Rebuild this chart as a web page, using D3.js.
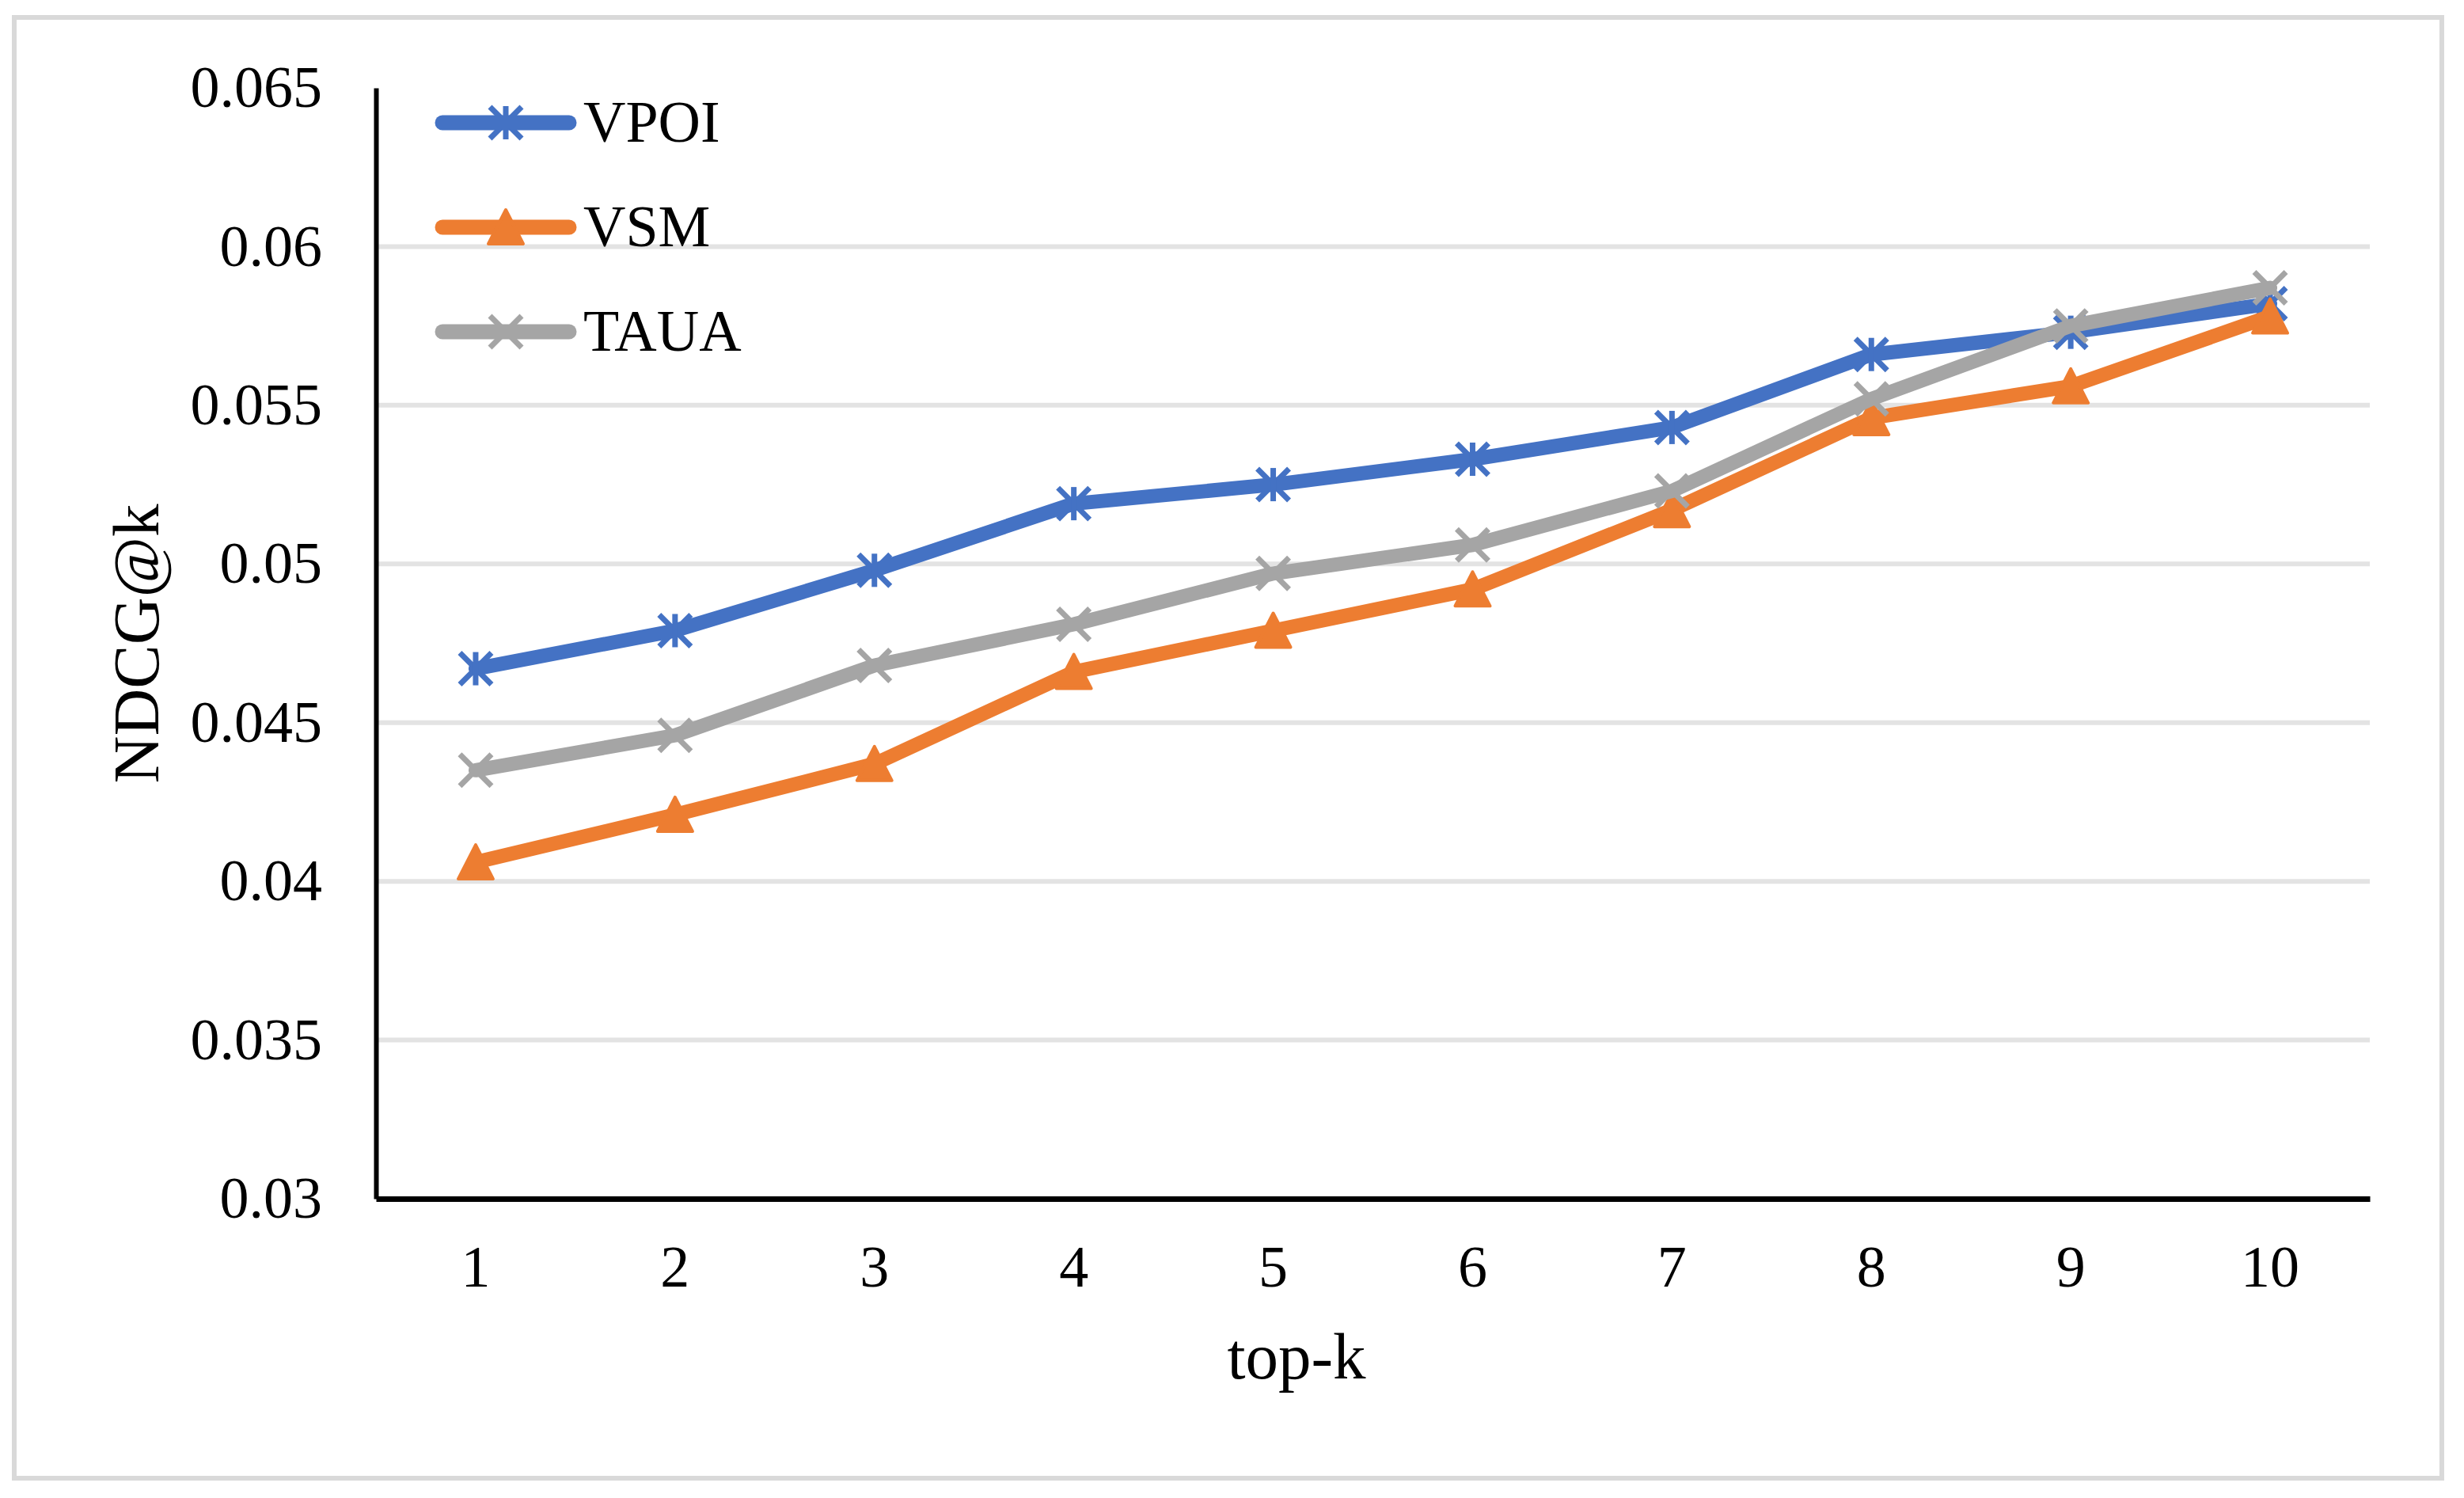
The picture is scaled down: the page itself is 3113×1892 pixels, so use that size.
<!DOCTYPE html>
<html>
<head>
<meta charset="utf-8">
<script src="https://cdn.jsdelivr.net/npm/d3@7"></script>
<style>
  body { margin: 0; background: #fff; }
  svg { display: block; font-family: "Times New Roman", "Liberation Serif", serif; }
</style>
</head>
<body>
<svg id="chart" width="3113" height="1892"></svg>
<script>
// chart data
const categories = ["1", "2", "3", "4", "5", "6", "7", "8", "9", "10"];
const seriesNames = ["VPOI", "VSM", "TAUA"];
const vpoi = [0.0467, 0.0479, 0.0498, 0.0519, 0.0525, 0.0533, 0.0543, 0.0566, 0.0573, 0.0582];
const vsm  = [0.0406, 0.0421, 0.0437, 0.0466, 0.0479, 0.0492, 0.0517, 0.0546, 0.0556, 0.0578];
const taua = [0.0435, 0.0446, 0.0468, 0.0481, 0.0497, 0.0506, 0.0523, 0.0552, 0.0575, 0.0587];
const yTicks = [0.03, 0.035, 0.04, 0.045, 0.05, 0.055, 0.06, 0.065];
const yTickLabels = ["0.03", "0.035", "0.04", "0.045", "0.05", "0.055", "0.06", "0.065"];
const xTitle = "top-k";
const yTitle = "NDCG@k";

const colors = { VPOI: "#4472C4", VSM: "#ED7D31", TAUA: "#A5A5A5" };
const markers = { VPOI: "star", VSM: "triangle", TAUA: "x" };
const values = { VPOI: vpoi, VSM: vsm, TAUA: taua };

const svg = d3.select("#chart");
const margin = { top: 111, right: 119, bottom: 378, left: 475 };
const W = +svg.attr("width"), H = +svg.attr("height");

// outer frame
svg.append("rect")
   .attr("x", 18).attr("y", 22)
   .attr("width", 3067).attr("height", 1845)
   .attr("fill", "#fff")
   .attr("stroke", "#D9D9D9")
   .attr("stroke-width", 6);

const x = d3.scaleBand()
            .domain(categories)
            .range([margin.left, W - margin.right]);

const y = d3.scaleLinear()
            .domain([0.03, 0.065])
            .range([H - margin.bottom, margin.top]);

// gridlines (none at the top value)
svg.append("g")
   .selectAll("line")
   .data(yTicks.slice(1, -1))
   .enter().append("line")
   .attr("x1", margin.left)
   .attr("x2", W - margin.right)
   .attr("y1", d => y(d))
   .attr("y2", d => y(d))
   .attr("stroke", "#E3E3E3")
   .attr("stroke-width", 6);

// y axis
const yAxis = svg.append("g")
   .attr("transform", "translate(" + margin.left + ",0)")
   .call(d3.axisLeft(y)
           .tickValues(yTicks)
           .tickFormat((d, i) => yTickLabels[i])
           .tickSize(0)
           .tickSizeOuter(0)
           .tickPadding(68));
yAxis.select(".domain").attr("stroke", "#000").attr("stroke-width", 6);
yAxis.selectAll("text")
     .attr("fill", "#000")
     .style("font-size", "74px")
     .style("font-family", "'Times New Roman', 'Liberation Serif', serif");

// x axis
const xAxis = svg.append("g")
   .attr("transform", "translate(0," + y(0.03) + ")")
   .call(d3.axisBottom(x)
           .tickSize(0)
           .tickSizeOuter(0)
           .tickPadding(58));
xAxis.select(".domain").attr("stroke", "#000").attr("stroke-width", 7);
xAxis.selectAll("text")
     .attr("fill", "#000")
     .style("font-size", "74px")
     .style("font-family", "'Times New Roman', 'Liberation Serif', serif");

// axis titles
svg.append("text")
   .attr("x", 1638)
   .attr("y", 1741)
   .attr("text-anchor", "middle")
   .style("font-size", "83px")
   .text(xTitle);

svg.append("text")
   .attr("transform", "translate(200,813) rotate(-90)")
   .attr("text-anchor", "middle")
   .style("font-size", "83px")
   .text(yTitle);

// marker drawing
function drawMarker(g, type, color) {
  if (type === "triangle") {
    g.append("path")
     .attr("d", "M0,-22 L22,21 L-22,21 Z")
     .attr("fill", color)
     .attr("stroke", color)
     .attr("stroke-width", 4)
     .attr("stroke-linejoin", "round");
    return;
  }
  const s = 20;
  const segs = [[-s, -s, s, s], [-s, s, s, -s]];
  if (type === "star") segs.push([0, -21, 0, 21]);
  segs.forEach(p => {
    g.append("line")
     .attr("x1", p[0]).attr("y1", p[1])
     .attr("x2", p[2]).attr("y2", p[3])
     .attr("stroke", color)
     .attr("stroke-width", 7);
  });
}

const line = d3.line()
               .x((d, i) => x(categories[i]) + x.bandwidth() / 2)
               .y(d => y(d));

seriesNames.forEach(name => {
  const g = svg.append("g").attr("class", "serie");
  g.append("path")
   .datum(values[name])
   .attr("d", line)
   .attr("fill", "none")
   .attr("stroke", colors[name])
   .attr("stroke-width", 18)
   .attr("stroke-linejoin", "round")
   .attr("stroke-linecap", "round");

  g.selectAll(".pt")
   .data(values[name])
   .enter().append("g")
   .attr("class", "pt")
   .attr("transform", (d, i) => "translate(" + (x(categories[i]) + x.bandwidth() / 2) + "," + y(d) + ")")
   .each(function() { drawMarker(d3.select(this), markers[name], colors[name]); });
});

// legend
const legend = svg.selectAll(".legend")
   .data(seriesNames)
   .enter().append("g")
   .attr("class", "legend")
   .attr("transform", (d, i) => "translate(0," + (155 + i * 132) + ")");

legend.append("line")
      .attr("x1", 559).attr("x2", 719)
      .attr("y1", 0).attr("y2", 0)
      .attr("stroke", d => colors[d])
      .attr("stroke-width", 19)
      .attr("stroke-linecap", "round");

legend.append("g")
      .attr("transform", "translate(639,0)")
      .each(function(d) { drawMarker(d3.select(this), markers[d], colors[d]); });

legend.append("text")
      .attr("x", 737)
      .attr("y", 24)
      .style("font-size", "74px")
      .text(d => d);
</script>
</body>
</html>
